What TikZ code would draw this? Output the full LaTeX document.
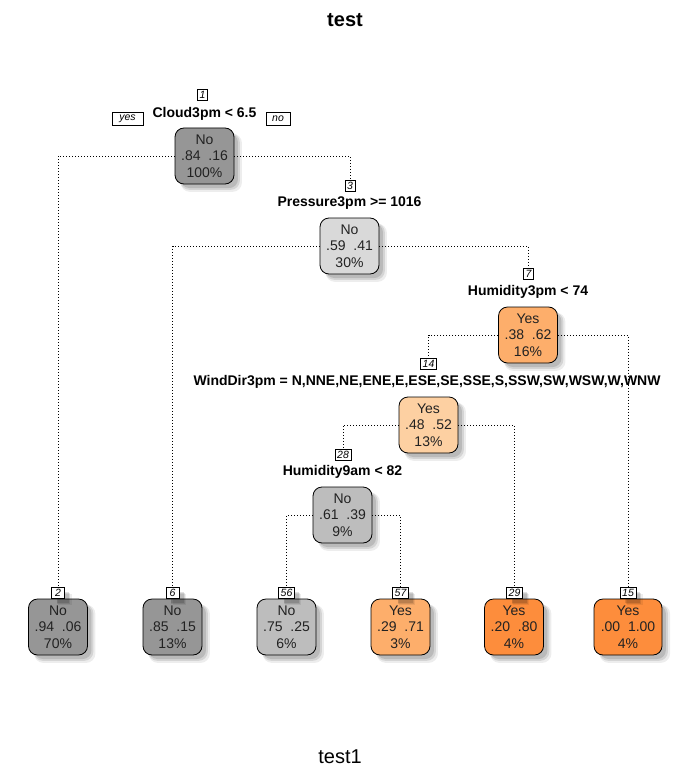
\documentclass[tikz,border=0pt]{standalone}
\usepackage{fontspec}
\setmainfont{Liberation Sans}
\usetikzlibrary{shadows}
\definecolor{gA}{HTML}{969696}
\definecolor{gB}{HTML}{BDBDBD}
\definecolor{gC}{HTML}{D9D9D9}
\definecolor{oA}{HTML}{FDD0A2}
\definecolor{oB}{HTML}{FDAE6B}
\definecolor{oC}{HTML}{FD8D3C}
\definecolor{txt}{HTML}{222222}
\tikzset{
  softshadow/.style={
    drop shadow={shadow xshift=6.5pt, shadow yshift=-6.5pt, fill=black, opacity=0.07, shadow scale=1.04},
    drop shadow={shadow xshift=5.5pt, shadow yshift=-5.5pt, fill=black, opacity=0.1, shadow scale=1.01},
    drop shadow={shadow xshift=5pt, shadow yshift=-5pt, fill=black, opacity=0.12, shadow scale=0.97}},
  tnode/.style={draw=black, line width=0.8pt, rounded corners=9pt,
    minimum width=59pt, minimum height=56pt, align=center,
    font=\fontsize{14}{16.5}\selectfont, text=txt, inner sep=0pt, softshadow},
  numlab/.style={draw=black, fill=white, line width=0.6pt,
    font=\fontsize{10.5}{11}\selectfont\itshape, inner xsep=2pt, inner ysep=0.5pt,
    minimum height=11pt},
  leaflab/.style={numlab, minimum width=13pt, softshadow},
  yesno/.style={draw=black, fill=white, line width=0.6pt,
    font=\fontsize{10.5}{11}\selectfont\itshape, inner sep=0pt, minimum height=13pt},
  splitlab/.style={font=\fontsize{14}{14}\selectfont\bfseries, anchor=base},
  edge/.style={line width=0.7pt, dash pattern=on 0.7pt off 2.3pt},
}
\newcommand{\gapsp}{\hspace{7.8pt}}
\begin{document}
\begin{tikzpicture}[x=1pt,y=-1pt]
\useasboundingbox[fill=white] (0,0) rectangle (698,773);
% titles
\node[font=\fontsize{20}{22}\selectfont\bfseries, anchor=base] (title) at (345,26.7) {test};
\node[font=\fontsize{20}{22}\selectfont, anchor=base] (subtitle) at (340,763) {test1};

% internal nodes
\node[tnode, fill=gA] (n1) at (204.5,156) {No\\.84\gapsp.16\\100\%};
\node[tnode, fill=gC] (n3) at (349.5,246) {No\\.59\gapsp.41\\30\%};
\node[tnode, fill=oB] (n7) at (528,335) {Yes\\.38\gapsp.62\\16\%};
\node[tnode, fill=oA] (n14) at (428.5,425) {Yes\\.48\gapsp.52\\13\%};
\node[tnode, fill=gB] (n28) at (342.5,515) {No\\.61\gapsp.39\\9\%};

% leaves
\node[tnode, fill=gA] (l2) at (58,627) {No\\.94\gapsp.06\\70\%};
\node[tnode, fill=gA] (l6) at (172.5,627) {No\\.85\gapsp.15\\13\%};
\node[tnode, fill=gB] (l56) at (286.5,627) {No\\.75\gapsp.25\\6\%};
\node[tnode, fill=oB] (l57) at (400.5,627) {Yes\\.29\gapsp.71\\3\%};
\node[tnode, fill=oC] (l29) at (514,627) {Yes\\.20\gapsp.80\\4\%};
\node[tnode, fill=oC, minimum width=68pt] (l15) at (628,627) {Yes\\.00\gapsp1.00\\4\%};

% number labels
\node[numlab] (k1) at (202.5,95) {1};
\node[numlab] (k3) at (350,185.5) {3};
\node[numlab] (k7) at (528.5,274) {7};
\node[numlab] (k14) at (428.5,364) {14};
\node[numlab] (k28) at (343,455) {28};
\node[leaflab] (k2) at (58,592.5) {2};
\node[leaflab] (k6) at (172.5,592.5) {6};
\node[leaflab] (k56) at (286.5,592.5) {56};
\node[leaflab] (k57) at (400.5,592.5) {57};
\node[leaflab] (k29) at (514.5,592.5) {29};
\node[leaflab] (k15) at (628,592.5) {15};

% split labels
\node[splitlab] (s1) at (204.5,117.7) {Cloud3pm < 6.5};
\node[splitlab] (s3) at (349.5,206.7) {Pressure3pm >= 1016};
\node[splitlab] (s7) at (528,295.5) {Humidity3pm < 74};
\node[splitlab] (s14) at (427,385.5) {WindDir3pm = N,NNE,NE,ENE,E,ESE,SE,SSE,S,SSW,SW,WSW,W,WNW};
\node[splitlab] (s28) at (342.5,475.7) {Humidity9am < 82};

% yes / no
\node[yesno, minimum width=31pt] (yes) at (127.5,118.5) {yes};
\node[yesno, minimum width=24pt] (no) at (278,118.5) {no};

% edges
\draw[edge] (n1.west) -| (k2.north);
\draw[edge] (n1.east) -| (k3.north);
\draw[edge] (n3.west) -| (k6.north);
\draw[edge] (n3.east) -| (k7.north);
\draw[edge] (n7.west) -| (k14.north);
\draw[edge] (n7.east) -| (k15.north);
\draw[edge] (n14.west) -| (k28.north);
\draw[edge] (n14.east) -| (k29.north);
\draw[edge] (n28.west) -| (k56.north);
\draw[edge] (n28.east) -| (k57.north);
\end{tikzpicture}
\end{document}
